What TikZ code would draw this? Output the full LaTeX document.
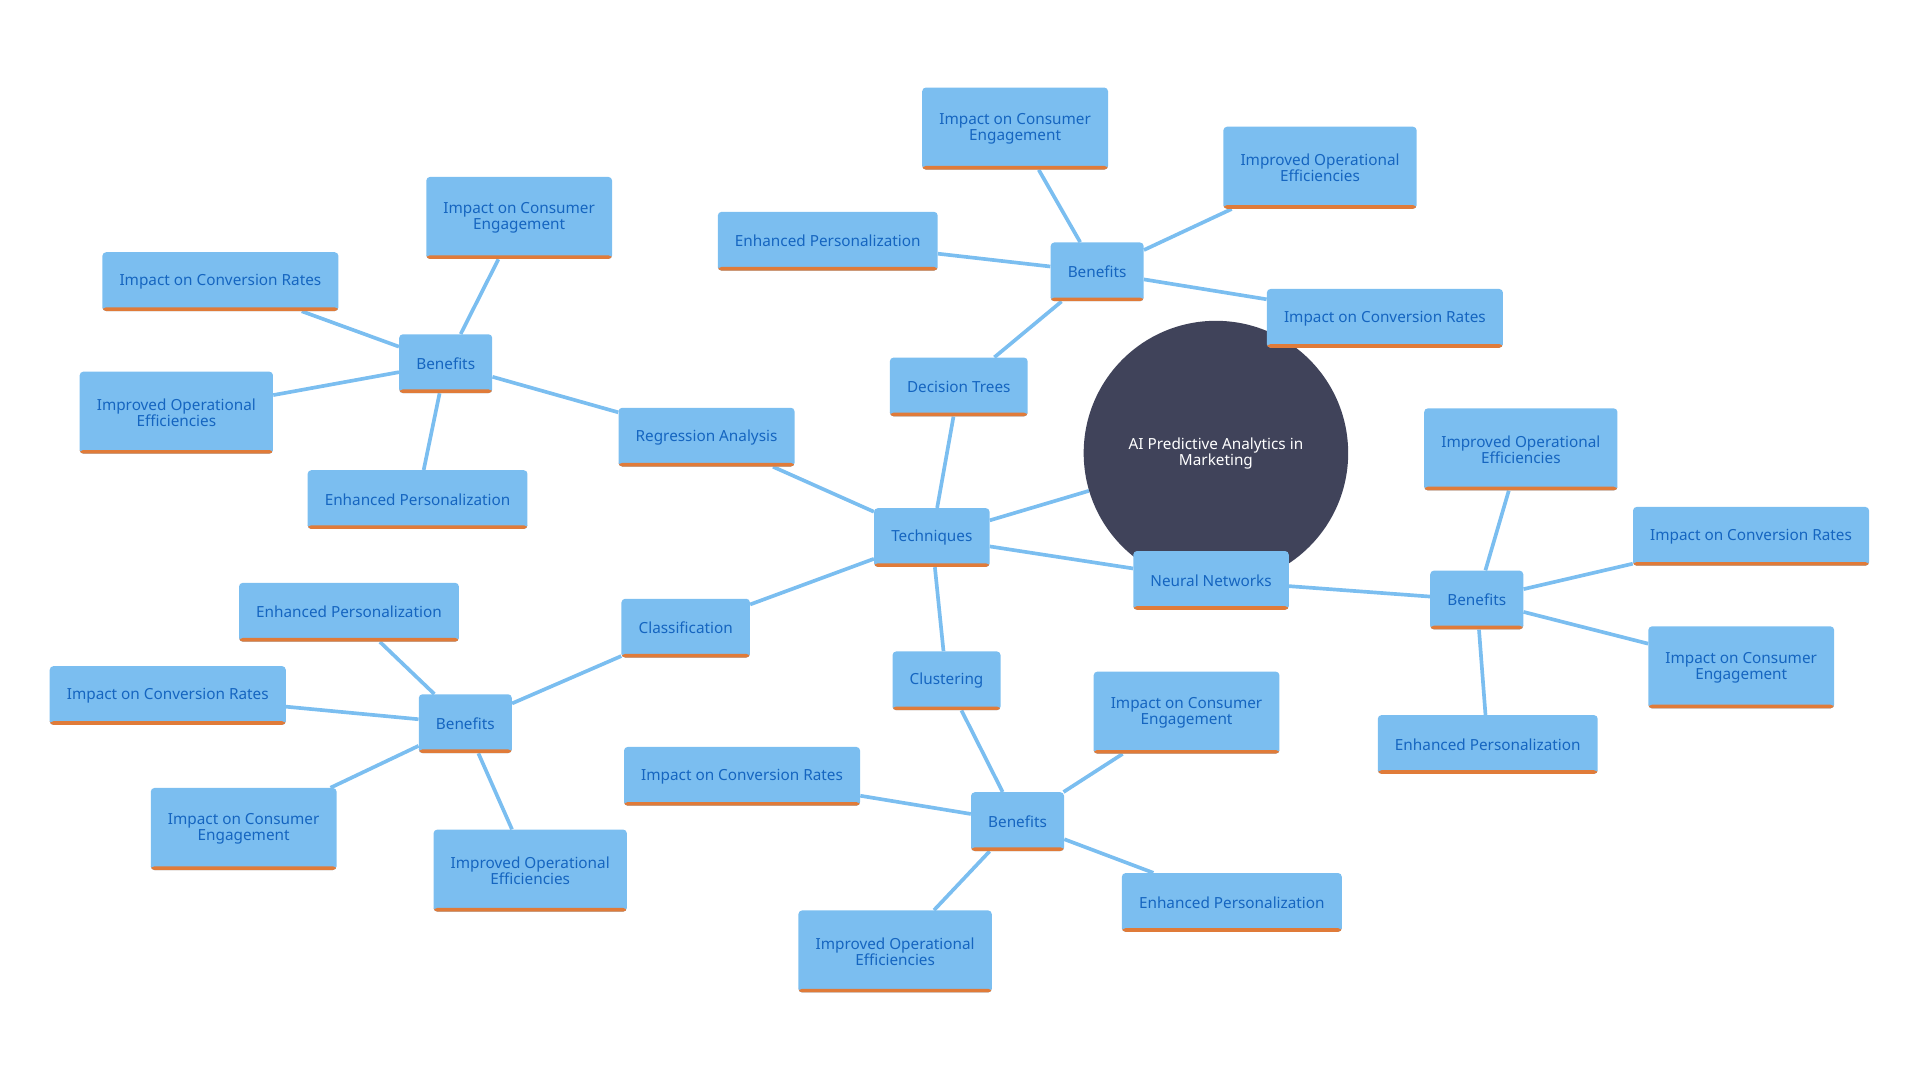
\documentclass[tikz,border=0pt]{standalone}
\usepackage{fontspec}
\setmainfont{Noto Sans}
\usetikzlibrary{backgrounds}
\definecolor{boxblue}{HTML}{7BBEF0}
\definecolor{textblue}{HTML}{1565C0}
\definecolor{barorange}{HTML}{E07B39}
\definecolor{rootgray}{HTML}{40435A}
\begin{document}
\begin{tikzpicture}[
    x=1pt, y=-1pt,
    topic/.style={rectangle, rounded corners=3pt, fill=boxblue, text=textblue,
        font=\fontsize{12.5}{13}\selectfont, align=center, minimum height=48pt, inner xsep=14pt,
        path picture={\fill[barorange] (path picture bounding box.south west) rectangle ([yshift=3pt]path picture bounding box.south east);}},
    twoline/.style={topic, minimum height=67pt},
    link/.style={draw=boxblue, line width=3pt}
]
    \useasboundingbox (0,0) rectangle (1568,882);
    \node[circle, fill=rootgray, text=white, minimum size=216pt, align=center, font=\fontsize{12.5}{13}\selectfont] at (993,370) (root) {AI Predictive Analytics in\\Marketing};

    \node[topic] at (761,439) (tech) {Techniques};
    \node[topic] at (783,316) (dt) {Decision Trees};
    \node[topic] at (577,357) (ra) {Regression Analysis};
    \node[topic] at (560,513) (cl) {Classification};
    \node[topic] at (773,556) (clu) {Clustering};
    \node[topic] at (989,474) (nn) {Neural Networks};

    % decision trees
    \node[topic] at (896,222) (bdt) {Benefits};
    \node[twoline] at (829,105) (dt1) {Impact on Consumer\\Engagement};
    \node[twoline] at (1078,137) (dt2) {Improved Operational\\Efficiencies};
    \node[topic] at (676,197) (dt3) {Enhanced Personalization};
    \node[topic] at (1131,260) (dt4) {Impact on Conversion Rates};

    % regression analysis
    \node[topic] at (364,297) (bra) {Benefits};
    \node[twoline] at (424,178) (ra1) {Impact on Consumer\\Engagement};
    \node[topic] at (180,230) (ra2) {Impact on Conversion Rates};
    \node[twoline] at (144,337) (ra3) {Improved Operational\\Efficiencies};
    \node[topic] at (341,408) (ra4) {Enhanced Personalization};

    % classification
    \node[topic] at (380,591) (bcl) {Benefits};
    \node[topic] at (285,500) (cl1) {Enhanced Personalization};
    \node[topic] at (137,568) (cl2) {Impact on Conversion Rates};
    \node[twoline] at (199,677) (cl3) {Impact on Consumer\\Engagement};
    \node[twoline] at (433,711) (cl4) {Improved Operational\\Efficiencies};

    % clustering
    \node[topic] at (831,671) (bclu) {Benefits};
    \node[twoline] at (969,582) (clu1) {Impact on Consumer\\Engagement};
    \node[topic] at (606,634) (clu2) {Impact on Conversion Rates};
    \node[topic] at (1006,737) (clu3) {Enhanced Personalization};
    \node[twoline] at (731,777) (clu4) {Improved Operational\\Efficiencies};

    % neural networks
    \node[topic] at (1206,490) (bnn) {Benefits};
    \node[twoline] at (1242,367) (nn1) {Improved Operational\\Efficiencies};
    \node[topic] at (1430,438) (nn2) {Impact on Conversion Rates};
    \node[twoline] at (1422,545) (nn3) {Impact on Consumer\\Engagement};
    \node[topic] at (1215,608) (nn4) {Enhanced Personalization};

    \begin{scope}[on background layer]
        \draw[link] (root) -- (tech);
        \draw[link] (tech) -- (dt);
        \draw[link] (tech) -- (ra);
        \draw[link] (tech) -- (cl);
        \draw[link] (tech) -- (clu);
        \draw[link] (tech) -- (nn);
        \draw[link] (dt) -- (bdt);
        \draw[link] (ra) -- (bra);
        \draw[link] (cl) -- (bcl);
        \draw[link] (clu) -- (bclu);
        \draw[link] (nn) -- (bnn);
        \draw[link] (bdt) -- (dt1);
        \draw[link] (bdt) -- (dt2);
        \draw[link] (bdt) -- (dt3);
        \draw[link] (bdt) -- (dt4);
        \draw[link] (bra) -- (ra1);
        \draw[link] (bra) -- (ra2);
        \draw[link] (bra) -- (ra3);
        \draw[link] (bra) -- (ra4);
        \draw[link] (bcl) -- (cl1);
        \draw[link] (bcl) -- (cl2);
        \draw[link] (bcl) -- (cl3);
        \draw[link] (bcl) -- (cl4);
        \draw[link] (bclu) -- (clu1);
        \draw[link] (bclu) -- (clu2);
        \draw[link] (bclu) -- (clu3);
        \draw[link] (bclu) -- (clu4);
        \draw[link] (bnn) -- (nn1);
        \draw[link] (bnn) -- (nn2);
        \draw[link] (bnn) -- (nn3);
        \draw[link] (bnn) -- (nn4);
    \end{scope}
\end{tikzpicture}
\end{document}
